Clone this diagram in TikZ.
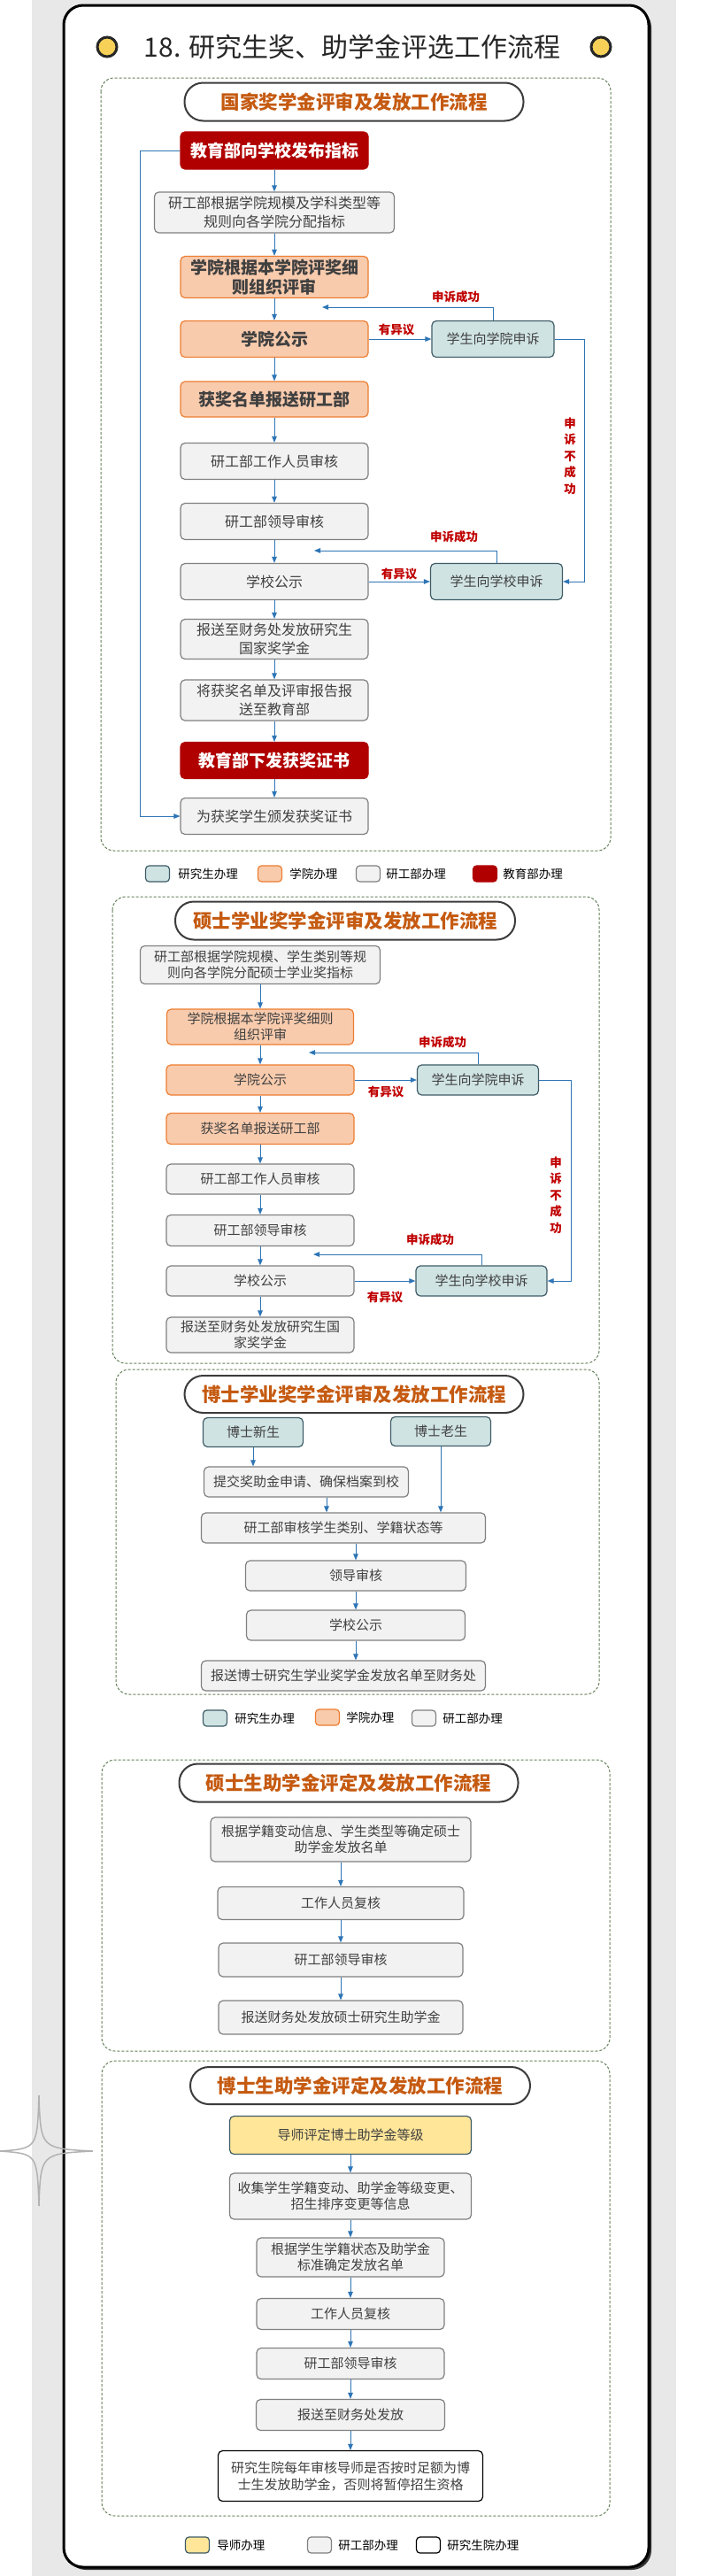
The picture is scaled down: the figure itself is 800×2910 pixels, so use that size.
\documentclass[tikz,border=0pt]{standalone}
\usepackage{fontspec}
\setmainfont{Noto Sans CJK SC}
\usetikzlibrary{arrows.meta, positioning}
\definecolor{flowblue}{RGB}{46, 117, 182}
\definecolor{lblred}{RGB}{192, 0, 0}
\definecolor{fillred}{RGB}{176, 0, 0}
\definecolor{fillorange}{RGB}{248, 203, 173}
\definecolor{edgeorange}{RGB}{237, 125, 49}
\definecolor{fillgray}{RGB}{242, 242, 242}
\definecolor{edgegray}{RGB}{128, 128, 128}
\definecolor{fillteal}{RGB}{208, 227, 227}
\definecolor{edgeteal}{RGB}{62, 92, 102}
\definecolor{fillyellow}{RGB}{255, 230, 153}
\definecolor{txtgray}{RGB}{64, 64, 64}
\definecolor{titledark}{RGB}{38, 38, 38}
\definecolor{titleorange}{RGB}{197, 90, 17}
\definecolor{dashgreen}{RGB}{100, 128, 88}
\definecolor{pillgray}{RGB}{60, 60, 60}
\definecolor{bggray}{RGB}{232, 232, 232}
\definecolor{dotyellow}{RGB}{247, 208, 88}
\newcommand{\setfs}[2]{\fontsize{#1}{#2}\selectfont}
\tikzset{
  flow/.style={draw=flowblue, line width=1pt, -{Triangle[length=7pt, width=5.5pt]}},
  sz/.style 2 args={minimum width=#1pt, minimum height=#2pt},
  base/.style={rounded corners=5pt, line width=1.2pt, align=center, inner sep=0pt, text=txtgray},
  graybox/.style={base, draw=edgegray, fill=fillgray},
  orangebox/.style={base, draw=edgeorange, fill=fillorange},
  redbox/.style={base, draw=fillred, fill=fillred, text=white, font=\bfseries\setfs{19}{22}},
  tealbox/.style={base, draw=edgeteal, fill=fillteal},
  yellowbox/.style={base, draw=edgeteal, fill=fillyellow},
  whitebox/.style={base, draw=black, fill=white},
  ftbig/.style={font=\bfseries\setfs{19}{22}},
  ftmid/.style={font=\setfs{16}{20.5}},
  ftsmall/.style={font=\setfs{15}{18}},
  lbl/.style={text=lblred, inner sep=0pt, font=\bfseries\setfs{13.5}{18.5}, align=center},
  pill/.style={draw=pillgray, line width=2pt, fill=white, rounded corners=21pt, text=titleorange, font=\bfseries\setfs{21.5}{24}},
  section/.style={draw=dashgreen, dash pattern=on 3pt off 2pt, line width=1pt, rounded corners=15pt},
  dot/.style={circle, draw=titledark, line width=3pt, fill=dotyellow, minimum size=22pt, inner sep=0pt},
  legbox/.style={rounded corners=4pt, line width=1.2pt, minimum width=27pt, minimum height=18pt, inner sep=0pt},
  leglbl/.style={inner sep=0pt, text=black, font=\setfs{13.5}{15}}
}

\begin{document}
\begin{tikzpicture}[x=1pt, y=-1pt]
  \useasboundingbox (0,0) rectangle (800,2910);
  % Page and frame
  \fill[bggray] (36,0) rectangle (764,2910);
  \fill[black!80, rounded corners=22pt] (75,9) rectangle (736,2903);
  \draw[line width=3pt, fill=white, rounded corners=22pt] (72,6) rectangle (733,2900);
  \draw[gray!60, line width=1.5pt] (44,2367) .. controls (46,2427) .. (105,2430) .. controls (46,2433) .. (44,2492) .. controls (42,2433) .. (0,2430) .. controls (42,2427) .. (44,2367) -- cycle;

  % Title
  \node[dot] (dotl) at (121,53) {};
  \node[dot] (dotr) at (679,53) {};
  \node[font=\setfs{30}{34}, text=titledark] (title) at (398,53) {18. 研究生奖、助学金评选工作流程};

  % National scholarship
  \draw[section] (114,88) rectangle (690,961);
  \node[pill, sz={383}{43}] (p1) at (400,115) {国家奖学金评审及发放工作流程};

  \node[redbox, sz={212}{42}] (g1) at (310,170) {教育部向学校发布指标};
  \node[graybox, ftmid, sz={271}{46}] (g2) at (310,240) {研工部根据学院规模及学科类型等\\规则向各学院分配指标};
  \node[orangebox, ftbig, sz={212}{47}] (g3) at (310,313) {学院根据本学院评奖细\\则组织评审};
  \node[orangebox, ftbig, sz={212}{41}] (g4) at (310,383) {学院公示};
  \node[orangebox, ftbig, sz={212}{40}] (g5) at (310,451) {获奖名单报送研工部};
  \node[graybox, ftmid, sz={212}{41}] (g6) at (310,521) {研工部工作人员审核};
  \node[graybox, ftmid, sz={212}{41}] (g7) at (310,589) {研工部领导审核};
  \node[graybox, ftmid, sz={212}{41}] (g8) at (310,657) {学校公示};
  \node[graybox, ftmid, sz={212}{45}] (g9) at (310,722) {报送至财务处发放研究生\\国家奖学金};
  \node[graybox, ftmid, sz={212}{46}] (g10) at (310,791) {将获奖名单及评审报告报\\送至教育部};
  \node[redbox, sz={212}{41}] (g11) at (310,859) {教育部下发获奖证书};
  \node[graybox, ftmid, sz={212}{41}] (g12) at (310,922) {为获奖学生颁发获奖证书};

  \node[tealbox, ftsmall, sz={138}{41}] (gc) at (557,383) {学生向学院申诉};
  \node[tealbox, ftsmall, sz={149}{41}] (gs) at (561,657) {学生向学校申诉};
  \coordinate (s1) at (364,347);
  \coordinate (s2) at (355,622);

  \draw[flow] (g1) -- (g2);
  \draw[flow] (g2) -- (g3);
  \draw[flow] (g3) -- (g4);
  \draw[flow] (g4) -- (g5);
  \draw[flow] (g5) -- (g6);
  \draw[flow] (g6) -- (g7);
  \draw[flow] (g7) -- (g8);
  \draw[flow] (g8) -- (g9);
  \draw[flow] (g9) -- (g10);
  \draw[flow] (g10) -- (g11);
  \draw[flow] (g11) -- (g12);
  \draw[flow] (g1.west) -- ++(-45,0) |- (g12.west);

  \draw[flow] (g4) -- (gc);
  \draw[flow] (gc.north) |- (s1);
  \draw[flow] (gc.east) -- ++(34,0) |- (gs.east);
  \draw[flow] (g8) -- (gs);
  \draw[flow] (gs.north) |- (s2);

  \node[lbl] (ga1) at (448,372) {有异议};
  \node[lbl] (gk1) at (515,335) {申诉成功};
  \node[lbl] (gf) at (644,515) {申\\诉\\不\\成\\功};
  \node[lbl] (ga2) at (451,648) {有异议};
  \node[lbl] (gk2) at (513,606) {申诉成功};

  % Legend
  \node[legbox, draw=edgeteal, fill=fillteal] (k1) at (178,987) {};
  \node[leglbl, right=9pt of k1] (k1t) {研究生办理};
  \node[legbox, draw=edgeorange, fill=fillorange] (k2) at (305,987) {};
  \node[leglbl, right=8pt of k2] (k2t) {学院办理};
  \node[legbox, draw=edgegray, fill=fillgray] (k3) at (416,987) {};
  \node[leglbl, right=6pt of k3] (k3t) {研工部办理};
  \node[legbox, draw=fillred, fill=fillred] (k4) at (548,987) {};
  \node[leglbl, right=6pt of k4] (k4t) {教育部办理};

  % Master academic scholarship
  \draw[section] (127,1013) rectangle (677,1540);
  \node[pill, sz={384}{43}] (p2) at (390,1040) {硕士学业奖学金评审及发放工作流程};

  \node[graybox, ftsmall, sz={271}{43}] (x1) at (294,1090) {研工部根据学院规模、学生类别等规\\则向各学院分配硕士学业奖指标};
  \node[orangebox, ftsmall, sz={211}{40}] (x2) at (294,1160) {学院根据本学院评奖细则\\组织评审};
  \node[orangebox, ftsmall, sz={212}{34}] (x3) at (294,1220) {学院公示};
  \node[orangebox, ftsmall, sz={212}{35}] (x4) at (294,1275) {获奖名单报送研工部};
  \node[graybox, ftsmall, sz={212}{34}] (x5) at (294,1332) {研工部工作人员审核};
  \node[graybox, ftsmall, sz={212}{35}] (x6) at (294,1390) {研工部领导审核};
  \node[graybox, ftsmall, sz={212}{34}] (x7) at (294,1447) {学校公示};
  \node[graybox, ftsmall, sz={212}{40}] (x8) at (294,1508) {报送至财务处发放研究生国\\家奖学金};

  \node[tealbox, ftsmall, sz={137}{34}] (xc) at (540,1220) {学生向学院申诉};
  \node[tealbox, ftsmall, sz={148}{34}] (xs) at (544,1447) {学生向学校申诉};
  \coordinate (s3) at (349,1189);
  \coordinate (s4) at (354,1417);

  \draw[flow] (x1) -- (x2);
  \draw[flow] (x2) -- (x3);
  \draw[flow] (x3) -- (x4);
  \draw[flow] (x4) -- (x5);
  \draw[flow] (x5) -- (x6);
  \draw[flow] (x6) -- (x7);
  \draw[flow] (x7) -- (x8);

  \draw[flow] (x3) -- (xc);
  \draw[flow] (xc.north) |- (s3);
  \draw[flow] (xc.east) -- ++(36,0) |- (xs.east);
  \draw[flow] (x7) -- (xs);
  \draw[flow] (xs.north) |- (s4);

  \node[lbl] (xa1) at (436,1233) {有异议};
  \node[lbl] (xk1) at (500,1177) {申诉成功};
  \node[lbl] (xf) at (628,1350) {申\\诉\\不\\成\\功};
  \node[lbl] (xa2) at (435,1465) {有异议};
  \node[lbl] (xk2) at (486,1400) {申诉成功};

  % Doctoral academic scholarship
  \draw[section] (131,1547) rectangle (677,1914);
  \node[pill, sz={383}{42}] (p3) at (400,1575) {博士学业奖学金评审及发放工作流程};

  \node[tealbox, ftsmall, sz={113}{33}] (d1) at (286,1618) {博士新生};
  \node[tealbox, ftsmall, sz={113}{33}] (d2) at (498,1617) {博士老生};
  \node[graybox, ftsmall, sz={231}{34}] (d3) at (346,1674) {提交奖助金申请、确保档案到校};
  \node[graybox, ftsmall, sz={321}{34}] (d4) at (388,1726) {研工部审核学生类别、学籍状态等};
  \node[graybox, ftsmall, sz={249}{34}] (d5) at (402,1780) {领导审核};
  \node[graybox, ftsmall, sz={247}{34}] (d6) at (402,1836) {学校公示};
  \node[graybox, ftsmall, sz={321}{34}] (d7) at (388,1893) {报送博士研究生学业奖学金发放名单至财务处};

  \draw[flow] (d1) -- (d1 |- d3.north);
  \draw[flow] ([xshift=23pt]d3.south) -- ([xshift=23pt]d3.south |- d4.north);
  \draw[flow] (d2) -- (d2 |- d4.north);
  \draw[flow] (d5.north |- d4.south) -- (d5);
  \draw[flow] (d5) -- (d6);
  \draw[flow] (d6) -- (d6 |- d7.north);

  % Legend
  \node[legbox, draw=edgeteal, fill=fillteal] (q1) at (243,1941) {};
  \node[leglbl, right=8pt of q1] (q1t) {研究生办理};
  \node[legbox, draw=edgeorange, fill=fillorange] (q2) at (370,1940) {};
  \node[leglbl, right=7pt of q2] (q2t) {学院办理};
  \node[legbox, draw=edgegray, fill=fillgray] (q3) at (479,1941) {};
  \node[leglbl, right=7pt of q3] (q3t) {研工部办理};

  % Master grant
  \draw[section] (115,1988) rectangle (689,2317);
  \node[pill, sz={383}{43}] (p4) at (394,2014) {硕士生助学金评定及发放工作流程};

  \node[graybox, ftsmall, sz={294}{50}] (m1) at (385,2078) {根据学籍变动信息、学生类型等确定硕士\\助学金发放名单};
  \node[graybox, ftsmall, sz={278}{37}] (m2) at (385,2150) {工作人员复核};
  \node[graybox, ftsmall, sz={276}{38}] (m3) at (385,2214) {研工部领导审核};
  \node[graybox, ftsmall, sz={276}{38}] (m4) at (385,2279) {报送财务处发放硕士研究生助学金};

  \draw[flow] (m1) -- (m2);
  \draw[flow] (m2) -- (m3);
  \draw[flow] (m3) -- (m4);

  % Doctoral grant
  \draw[section] (115,2328) rectangle (689,2842);
  \node[pill, sz={384}{42}] (p5) at (407,2356) {博士生助学金评定及发放工作流程};

  \node[yellowbox, ftsmall, sz={273}{43}] (b1) at (396,2412) {导师评定博士助学金等级};
  \node[graybox, ftsmall, sz={273}{52}] (b2) at (396,2481) {收集学生学籍变动、助学金等级变更、\\招生排序变更等信息};
  \node[graybox, ftsmall, sz={212}{44}] (b3) at (396,2550) {根据学生学籍状态及助学金\\标准确定发放名单};
  \node[graybox, ftsmall, sz={212}{35}] (b4) at (396,2614) {工作人员复核};
  \node[graybox, ftsmall, sz={212}{35}] (b5) at (396,2670) {研工部领导审核};
  \node[graybox, ftsmall, sz={213}{35}] (b6) at (396,2728) {报送至财务处发放};
  \node[whitebox, font=\setfs{15}{19}, sz={299}{57}] (b7) at (396,2797) {研究生院每年审核导师是否按时足额为博\\士生发放助学金，否则将暂停招生资格};

  \draw[flow] (b1) -- (b2);
  \draw[flow] (b2) -- (b3);
  \draw[flow] (b3) -- (b4);
  \draw[flow] (b4) -- (b5);
  \draw[flow] (b5) -- (b6);
  \draw[flow] (b6) -- (b7);

  % Legend
  \node[legbox, draw=edgeteal, fill=fillyellow] (r1) at (223,2875) {};
  \node[leglbl, right=8pt of r1] (r1t) {导师办理};
  \node[legbox, draw=edgegray, fill=fillgray] (r2) at (361,2875) {};
  \node[leglbl, right=7pt of r2] (r2t) {研工部办理};
  \node[legbox, draw=black, fill=white] (r3) at (484,2875) {};
  \node[leglbl, right=7pt of r3] (r3t) {研究生院办理};
\end{tikzpicture}
\end{document}
